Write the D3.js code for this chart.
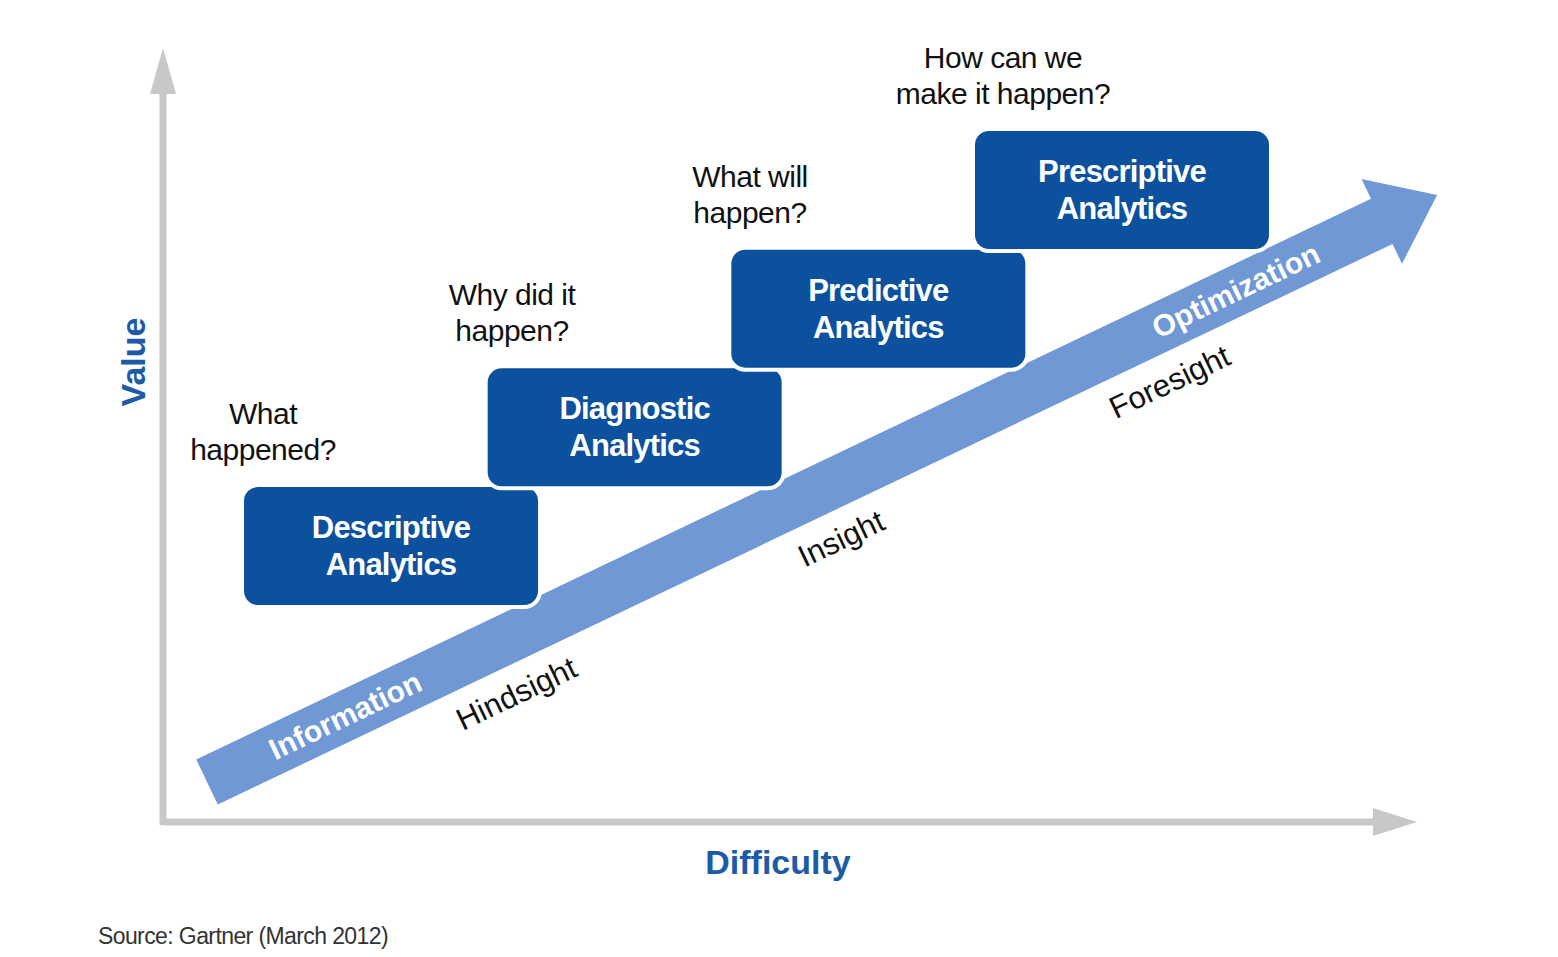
<!DOCTYPE html>
<html><head><meta charset="utf-8">
<script src="https://cdn.jsdelivr.net/npm/d3@7"></script>
<style>body{margin:0;background:#fff}text{font-family:"Liberation Sans",Arial,sans-serif}</style>
</head><body><svg id="c" width="1558" height="957"></svg>
<script>
const stages = ["Descriptive", "Diagnostic", "Predictive", "Prescriptive"];
const questions = [["What", "happened?"], ["Why did it", "happen?"], ["What will", "happen?"], ["How can we", "make it happen?"]];
const questionX = [263, 512, 750, 1003];
const bandLabels = ["Information", "Optimization"];
const sideLabels = ["Hindsight", "Insight", "Foresight"];

const svg = d3.select("#c");
const blue = "#0b519d", band = "#6f98d4", axisC = "#c8c8c8", title = "#1d5ba6";

// stage index -> box position
const bx = d3.scaleLinear().domain([0, 3]).range([242, 973]);
const by = d3.scaleLinear().domain([0, 3]).range([485, 129]);
const bw = 298, bh = 122;

// axes
const ax = d3.scaleLinear().domain([0, 1]).range([163, 1395]);
const ay = d3.scaleLinear().domain([0, 1]).range([822, 72]);
svg.append("line").attr("x1", ax(0)).attr("y1", ay(0)).attr("x2", ax(1)).attr("y2", ay(0))
  .attr("stroke", axisC).attr("stroke-width", 7);
svg.append("line").attr("x1", ax(0)).attr("y1", ay(0) + 3).attr("x2", ax(0)).attr("y2", ay(1))
  .attr("stroke", axisC).attr("stroke-width", 7);
svg.append("path").attr("fill", axisC)
  .attr("d", `M${ax(1) - 22},${ay(0) - 14}L${ax(1) + 22},${ay(0)}L${ax(1) - 22},${ay(0) + 14}Z`);
svg.append("path").attr("fill", axisC)
  .attr("d", `M${ax(0) - 13},${ay(1) + 22}L${ax(0)},${ay(1) - 24}L${ax(0) + 13},${ay(1) + 22}Z`);

// diagonal band arrow (along parameter t)
const ang = Math.atan2(-587, 1230);
const deg = ang * 180 / Math.PI;
const ux = Math.cos(ang), uy = Math.sin(ang), nx = -uy, ny = ux;
const base = [207, 782];
const along = d3.scaleLinear().domain([0, 1]).range([0, 1363]);
const P = (t, off) => [base[0] + ux * along(t) + nx * off, base[1] + uy * along(t) + ny * off];
const half = 25, headL = 0.955;
const pts = [P(0, -half), P(headL, -half), P(headL, -half - 22), P(1, 0), P(headL, half + 22), P(headL, half), P(0, half)];
svg.append("path").attr("fill", band).attr("d", "M" + pts.map(p => p.join(",")).join("L") + "Z");

[[0.116, bandLabels[0]], [0.84, bandLabels[1]]].forEach(([t, s]) => {
  const p = P(t, 0);
  svg.append("text").attr("transform", `translate(${p[0]},${p[1] + 11}) rotate(${deg})`)
    .attr("text-anchor", "middle").attr("fill", "#fff").attr("font-weight", "bold")
    .attr("font-size", 30).text(s);
});
[0.236, 0.5, 0.767].forEach((t, i) => {
  const p = P(t, half + 30);
  svg.append("text").attr("transform", `translate(${p[0]},${p[1] + 10}) rotate(${deg})`)
    .attr("text-anchor", "middle").attr("fill", "#111").attr("font-size", 31).text(sideLabels[i]);
});

// boxes
stages.forEach((s, i) => {
  const g = svg.append("g").attr("transform", `translate(${bx(i)},${by(i)})`);
  g.append("rect").attr("width", bw).attr("height", bh).attr("rx", 16)
    .attr("fill", blue).attr("stroke", "#fff").attr("stroke-width", 4);
  [s, "Analytics"].forEach((l, k) => g.append("text").attr("x", bw / 2).attr("y", 53 + k * 37)
    .attr("text-anchor", "middle").attr("fill", "#fff").attr("font-size", 31)
    .attr("font-weight", "bold").attr("letter-spacing", "-0.8").text(l));
  questions[i].forEach((q, k) => svg.append("text").attr("x", questionX[i])
    .attr("y", by(i) - 61 + k * 36)
    .attr("text-anchor", "middle").attr("fill", "#111").attr("font-size", 30)
    .attr("letter-spacing", "-0.5").text(q));
});

// titles
svg.append("text").attr("transform", "translate(145,362) rotate(-90)").attr("text-anchor", "middle")
  .attr("fill", title).attr("font-weight", "bold").attr("font-size", 34).text("Value");
svg.append("text").attr("x", 778).attr("y", 874).attr("text-anchor", "middle")
  .attr("fill", title).attr("font-weight", "bold").attr("font-size", 34).text("Difficulty");
svg.append("text").attr("x", 98).attr("y", 944).attr("fill", "#333").attr("font-size", 23)
  .attr("letter-spacing", "-0.6").text("Source: Gartner (March 2012)");
</script></body></html>
